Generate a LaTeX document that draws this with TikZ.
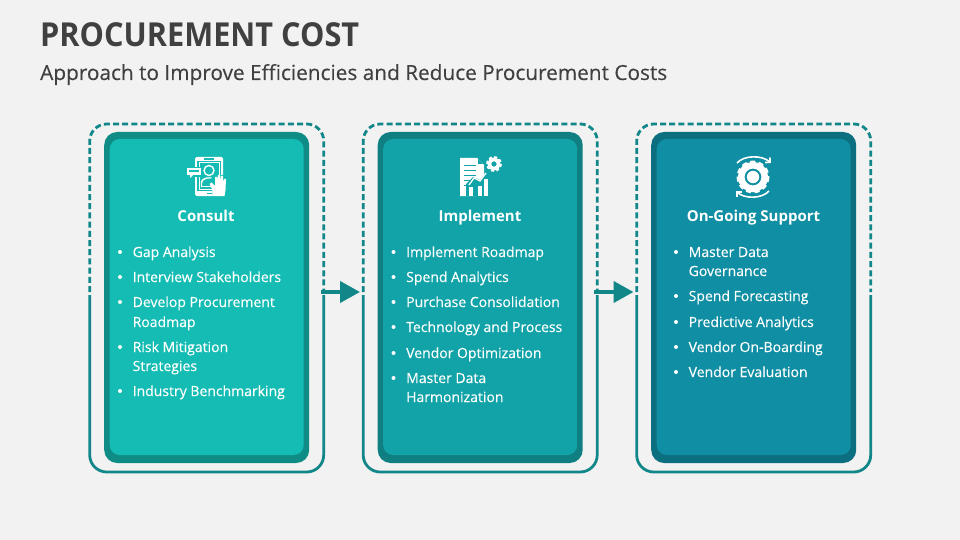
\documentclass[tikz,border=0pt]{standalone}
\usepackage{fontspec}
\setmainfont{Open Sans}
\newfontfamily\titlefont[FakeStretch=0.93]{Open Sans}
\newfontfamily\bodyfont[FakeBold=0.25]{Open Sans}
\usetikzlibrary{arrows.meta}
\definecolor{pagebg}{HTML}{F2F2F2}
\definecolor{inktitle}{HTML}{404040}
\definecolor{framecol}{HTML}{12878A}
\definecolor{consultlight}{HTML}{14BCB3}
\definecolor{consultdark}{HTML}{0F8C86}
\definecolor{implementlight}{HTML}{12A3A8}
\definecolor{implementdark}{HTML}{0F7F82}
\definecolor{supportlight}{HTML}{108EA3}
\definecolor{supportdark}{HTML}{0C6F7F}
\tikzset{
  panel/.style={rectangle,rounded corners=13,minimum width=205,minimum height=331,inner sep=0},
  innerpanel/.style={rectangle,rounded corners=10,minimum width=194,minimum height=316,inner sep=0},
  framebox/.style={rectangle,minimum width=234,minimum height=348,inner sep=0},
  frameline/.style={draw=framecol,line width=2.8,rounded corners=17},
  flowarrow/.style={draw=framecol,fill=framecol,line width=4,-{Triangle[length=20,width=21]}},
  headline/.style={anchor=base,inner sep=0,text=white,font=\fontsize{15}{18}\selectfont\bfseries},
  itemline/.style={anchor=base west,inner sep=0,text=white,font=\bodyfont\fontsize{14}{17}\selectfont},
  bulletdot/.style={circle,fill=white,minimum size=4,inner sep=0},
}
\begin{document}
\begin{tikzpicture}[x=1pt,y=-1pt]
    \useasboundingbox[fill=pagebg] (0,0) rectangle (960,540);

    % Heading
    \node[anchor=base west,inner sep=0,text=inktitle,font=\titlefont\fontsize{33}{36}\selectfont\bfseries] (pagetitle) at (40,47) {PROCUREMENT COST};
    \node[anchor=base west,inner sep=0,text=inktitle,font=\bodyfont\fontsize{20.8}{24}\selectfont] (pagesubtitle) at (40,80) {Approach to Improve Efficiencies and Reduce Procurement Costs};

    % Three columns
    \foreach \colname/\xmid/\colr in {consult/206.7/consult,implement/480.2/implement,support/753.7/support}{
        \node[framebox] (\colname frm) at (\xmid,298) {};
        \node[panel,fill=\colr dark] (\colname out) at (\xmid,297.5) {};
        \node[innerpanel,fill=\colr light] (\colname in) at (\xmid,297) {};
        \draw[frameline,dash pattern=on 6 off 3.2] (\xmid-117,292) |- (\xmid+117,124) -- (\xmid+117,292);
        \draw[frameline] (\xmid-117,295) |- (\xmid+117,472) -- (\xmid+117,295);
    }

    % Arrows between the columns
    \coordinate (flowlevel) at (0,292);
    \draw[flowarrow] ([xshift=-3]consultfrm.east |- flowlevel) -- ([xshift=-3]implementfrm.west |- flowlevel);
    \draw[flowarrow] ([xshift=-3]implementfrm.east |- flowlevel) -- ([xshift=-3]supportfrm.west |- flowlevel);

    % Column headings
    \node[headline] (consulthead) at (206,221.5) {Consult};
    \node[headline] (implementhead) at (480,221.5) {Implement};
    \node[headline] (supporthead) at (753.5,221.5) {On-Going Support};

    % Lists
    \foreach \ypos/\txt in {257/Gap Analysis,282/Interview Stakeholders,307/Develop Procurement,352/Risk Mitigation,396/Industry Benchmarking}{
        \node[bulletdot] (consultdot\ypos) at (120,\ypos-5) {};
        \node[itemline] (consultitem\ypos) at (132.5,\ypos) {\txt};
    }
    \node[itemline] (consultwrapa) at (132.5,327) {Roadmap};
    \node[itemline] (consultwrapb) at (132.5,371) {Strategies};

    \foreach \ypos/\txt in {257/Implement Roadmap,282/Spend Analytics,307/Purchase Consolidation,332/Technology and Process,358/Vendor Optimization,383/Master Data}{
        \node[bulletdot] (implementdot\ypos) at (393.5,\ypos-5) {};
        \node[itemline] (implementitem\ypos) at (406,\ypos) {\txt};
    }
    \node[itemline] (implementwrap) at (406,402) {Harmonization};

    \foreach \ypos/\txt in {257/Master Data,301/Spend Forecasting,327/Predictive Analytics,352/Vendor On-Boarding,377/Vendor Evaluation}{
        \node[bulletdot] (supportdot\ypos) at (676,\ypos-5) {};
        \node[itemline] (supportitem\ypos) at (688.5,\ypos) {\txt};
    }
    \node[itemline] (supportwrap) at (688.5,276) {Governance};

    % Consult icon: tablet, person, hand and speech bubble
    \fill[white,rounded corners=1.5] (195,157) rectangle (223,196);
    \fill[consultlight] (197,161) rectangle (221,191);
    \fill[consultlight] (204,158.2) rectangle (214,159.6);
    \fill[consultlight] (207,192.8) rectangle (212,194.4);
    \draw[white,line width=1] (199,163) rectangle (219,189);
    \fill[consultlight] (186,167) rectangle (203,177);
    \fill[white] (187,168) rectangle (201,175);
    \fill[white] (190,175) -- (193,175) -- (190,178) -- cycle;
    \fill[consultlight] (188.5,170) rectangle (199,172);
    \draw[white,line width=1.4] (209,170.5) circle (5);
    \draw[white,line width=1.4] (201.5,187) -- (201.5,183) .. controls (201.5,179) and (205,179) .. (207,178) -- (212,178);
    \fill[white] (202,187) rectangle (211,185.6);
    \fill[consultlight] (211,178) -- (226,174) -- (228,197) -- (213,197) -- cycle;
    \fill[white] (213,196) -- (212,189) -- (209.5,184) -- (211.5,182.5) -- (215,186) -- (215,177) -- (217,177) -- (217,182)
        -- (218,175) -- (220,175) -- (220,182) -- (221,176) -- (223,176) -- (223,183) -- (224,179) -- (226,179)
        -- (225.5,190) -- (224.5,196) -- cycle;

    % Implement icon: report, chart and gear
    \fill[white] (460,158) -- (477,158) -- (484,165) -- (484,180) -- (476,196) -- (460,196) -- cycle;
    \fill[implementlight] (478,159) -- (483,164) -- (478,164) -- cycle;
    \foreach \yl in {165,170,175,180,185}{
        \fill[implementlight] (464,\yl) rectangle (476,\yl+1.4);
    }
    \fill[implementlight] (466,196) -- (466,184) -- (473,177) -- (480,180) -- (490,168) -- (490,196) -- cycle;
    \draw[white,line width=1.3] (469,185) -- (474,178) -- (480,181) -- (486,173);
    \fill[white] (468.5,187) rectangle (472.5,196);
    \fill[white] (478,186) rectangle (482,196);
    \fill[white] (484,179) rectangle (488,196);
    \draw[white,line width=2.2,dash pattern=on 2.9 off 2.44] (494,164) circle (6.8);
    \draw[white,line width=3.6] (494,164) circle (4.7);

    % Support icon: gear and two turning arrows
    \draw[white,line width=2.4,dash pattern=on 5 off 3.6] (753,177) circle (15.2);
    \draw[white,line width=6.6] (753,177) circle (11.8);
    \fill[white] (753,177) circle (6.2);
    \draw[white,line width=1.6,-{Straight Barb[length=3.5,width=7]}] (737,163) .. controls (744,155) and (762,155) .. (771,163);
    \draw[white,line width=1.6,-{Straight Barb[length=3.5,width=7]}] (769,191) .. controls (762,199) and (744,199) .. (736,191);
\end{tikzpicture}
\end{document}
